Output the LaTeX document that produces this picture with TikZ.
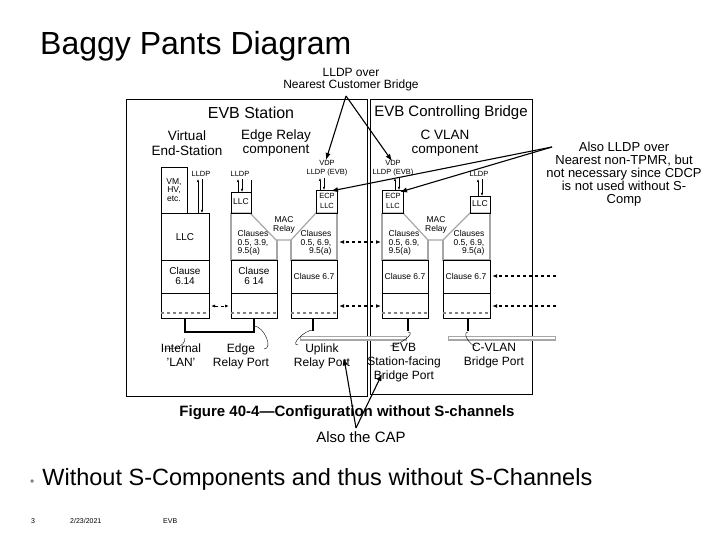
\documentclass[tikz,border=0pt]{standalone}
\usepackage{fontspec}
\setmainfont{Liberation Sans}
\usetikzlibrary{arrows.meta}
\begin{document}
\begin{tikzpicture}[x=1pt,y=-1pt,
 t/.style={inner sep=0pt,align=center,font=\fontsize{#1}{#1}\selectfont},
 t/.default=9,
 box/.style={draw,line width=0.6pt},
 gr/.style={draw=gray!70,line width=1.2pt},
 dsh/.style={dashed,line width=1.1pt,-{Latex[length=5pt]}},
 ann/.style={line width=1.1pt,-{Latex[length=7pt]}},
 pl/.style={inner sep=0pt,align=center,font=\fontsize{12}{14}\selectfont,anchor=north},
 tiny/.style={inner sep=0pt,font=\fontsize{7}{8}\selectfont,align=center}]
\useasboundingbox (0,0) rectangle (720,540);
% title etc
\node[t=32,anchor=west] (title) at (40,46) {Baggy Pants Diagram};
\node[t=23.5,anchor=west] (bul) at (30,479) {\textcolor{gray}{\fontsize{12}{12}\selectfont\textbullet}\hspace{8pt}Without S-Components and thus without S-Channels};
\node[tiny,anchor=west] (f1) at (31,521) {3};
\node[tiny,anchor=west] (f2) at (70,521) {2/23/2021};
\node[tiny,anchor=west] (f3) at (163,521) {EVB};
% outer boxes
\draw[box] (126,99) rectangle (367,396);
\draw[box] (370,99) rectangle (532,394);
\node[t=16] (h1) at (251,113) {EVB Station};
\node[t=15] (h2) at (451,113) {EVB Controlling Bridge};
\node[t=13.5] (h3) at (187,143) {Virtual\\[1pt]End-Station};
\node[t=13.5] (h4) at (276,143) {Edge Relay\\[1pt]component};
\node[t=13.5] (h5) at (445,143) {C VLAN\\[1pt]component};
% column 1
\draw[box] (161,167) rectangle (187,213);
\node[t=8.5] (vm) at (174,190) {VM,\\HV,\\etc.};
\draw[box] (161,213) rectangle (209,318);
\draw (161,260)--(209,260) (161,293)--(209,293);
\draw[gray,dashed,line width=1.2pt] (161,313)--(209,313);
\node[t=10] (llc1) at (185,237) {LLC};
\node[t=10] (c614a) at (185,276) {Clause\\6.14};
\node[t=7.5] (lldp1) at (201,174) {LLDP};
\draw[-{Latex[length=3pt]}] (198,213)--(198,179);
\draw[-{Latex[length=3pt]}] (202,179)--(202,213);
% column 2-3 (edge relay)
\draw[gr] (231,213)--(250,213)--(276,240)--(291,240)--(316,213)--(337,213);
\draw[gr] (231,213)--(231,260)--(277,260)--(277,240) (291,240)--(291,260)--(337,260)--(337,213);
\draw[box] (231,192) rectangle (251,213);
\draw (251,192)--(251,180);
\node[t=8.5] (llc2) at (241,202) {LLC};
\node[t=7.5] (lldp2) at (240,174) {LLDP};
\draw[-{Latex[length=3pt]}] (238,192)--(238,179);
\draw[-{Latex[length=3pt]}] (242,179)--(242,192);
\draw[box] (316,190) rectangle (337,213);
\node[t=7.5] (ecp1) at (327,201) {ECP\\[2pt]LLC};
\node[t=7.5] (vdp1) at (327,168) {VDP\\[2pt]LLDP (EVB)};
\draw[-{Latex[length=3pt]}] (320,190)--(320,178);
\draw[-{Latex[length=3pt]}] (324,178)--(324,190);
\node[t=8.5] (mac1) at (284,225) {MAC\\Relay};
\node[t=8.5,align=left] (cl1) at (253,243) {Clauses\\0.5, 3.9,\\9.5(a)};
\node[t=8.5,align=right] (cl2) at (316,243) {Clauses\\0.5, 6.9,\\9.5(a)};
\draw[box] (231,260) rectangle (277,318);
\draw (231,293)--(277,293);
\draw[gray,dashed,line width=1.2pt] (231,313)--(277,313);
\node[t=10] (c614b) at (254,276) {Clause\\6 14};
\draw[box] (291,260) rectangle (337,318);
\draw (291,293)--(337,293);
\draw[gray,dashed,line width=1.2pt] (291,313)--(337,313);
\node[t=8.5] (c67a) at (314,276) {Clause  6.7};
% bridge columns
\draw[gr] (382,213)--(403,213)--(428,240)--(443,240)--(470,213)--(490,213);
\draw[gr] (382,213)--(382,260)--(428,260)--(428,240) (443,240)--(443,260)--(490,260)--(490,213);
\draw[box] (382,190) rectangle (403,213);
\node[t=7.5] (ecp2) at (393,201) {ECP\\[2pt]LLC};
\node[t=7.5] (vdp2) at (393,168) {VDP\\[2pt]LLDP (EVB)};
\draw[-{Latex[length=3pt]}] (395,190)--(395,178);
\draw[-{Latex[length=3pt]}] (399,178)--(399,190);
\draw[box] (470,196) rectangle (490,213);
\node[t=8.5] (llc3) at (480,204) {LLC};
\node[t=7.5] (lldp3) at (479,174) {LLDP};
\draw[-{Latex[length=3pt]}] (478,196)--(478,179);
\draw[-{Latex[length=3pt]}] (482,179)--(482,196);
\node[t=8.5] (mac2) at (436,225) {MAC\\Relay};
\node[t=8.5,align=left] (cl3) at (404,243) {Clauses\\0.5, 6.9,\\9.5(a)};
\node[t=8.5,align=right] (cl4) at (469,243) {Clauses\\0.5, 6.9,\\9.5(a)};
\draw[box] (382,260) rectangle (428,318);
\draw (382,293)--(428,293);
\draw[gray,dashed,line width=1.2pt] (382,313)--(428,313);
\node[t=8.5] (c67b) at (405,276) {Clause  6.7};
\draw[box] (443,260) rectangle (490,318);
\draw (443,293)--(490,293);
\draw[gray,dashed,line width=1.2pt] (443,313)--(490,313);
\node[t=8.5] (c67c) at (466,276) {Clause 6.7};
% LAN and ports
\draw[line width=1.8pt] (185,318)--(185,332)--(254,332)--(254,318);
\draw[{Latex[length=4pt]}-{Latex[length=4pt]},dashed,line width=1pt] (211,306)--(229,306);
\draw[line width=1.2pt] (313,318)--(313,331) (408,318)--(408,331) (468,318)--(468,331);
\draw[gray!70,line width=5pt] (300,338)--(407,338) (448,338)--(556,338);
\draw[white,line width=2pt] (301,338)--(406,338) (449,338)--(555,338);
% dashed arrows
\draw[dsh] (367,242)--(339,242);
\draw[dsh] (367,306)--(339,306);
\draw[dsh] (370,242)--(381,242);
\draw[dsh] (370,306)--(381,306);
\draw[dsh] (556,276)--(492,276);
\draw[dsh] (556,306)--(492,306);
% port labels
\node[pl] (pl1) at (181,342) {\strut Internal\\\strut 'LAN'};
\node[pl] (pl2) at (241,342) {\strut Edge\\\strut Relay Port};
\node[pl] (pl3) at (322,342) {\strut Uplink\\\strut Relay Port};
\node[pl] (pl4) at (404,341) {\strut EVB\\\strut Station-facing\\\strut Bridge Port};
\node[pl] (pl5) at (494,341) {\strut C-VLAN\\\strut Bridge Port};
\draw (163,349) to[out=0,in=-90] (185,338);
\draw (264,349) to[out=0,in=0] (254,326);
\draw (298,345) to[out=180,in=180] (313,330);
\draw (390,346) to[out=0,in=0] (408,332);
\draw (476,346) to[out=180,in=180] (468,332);
\node[font=\bfseries\fontsize{15}{15}\selectfont,inner sep=0pt] (cap) at (347,413) {Figure 40-4---Configuration without S-channels};
% annotations
\node[t=12] (a1) at (351,80) {LLDP over\\Nearest Customer Bridge};
\coordinate (a1b) at (346,96);
\draw[ann] (a1b)--(326,160);
\draw[ann] (a1b)--(392,161);
\node[t=13] (a2) at (624,174) {Also LLDP over\\Nearest non-TPMR, but\\not necessary since CDCP\\is not used without S-\\Comp};
\coordinate (a2b) at (552,147);
\draw[ann] (a2b)--(331,191);
\draw[ann] (a2b)--(400,192);
\node[t=15] (a3) at (361,437) {Also the CAP};
\coordinate (a3b) at (356,428);
\draw[ann] (a3b)--(344,358);
\draw[ann] (a3b)--(382,374);
\end{tikzpicture}
\end{document}
